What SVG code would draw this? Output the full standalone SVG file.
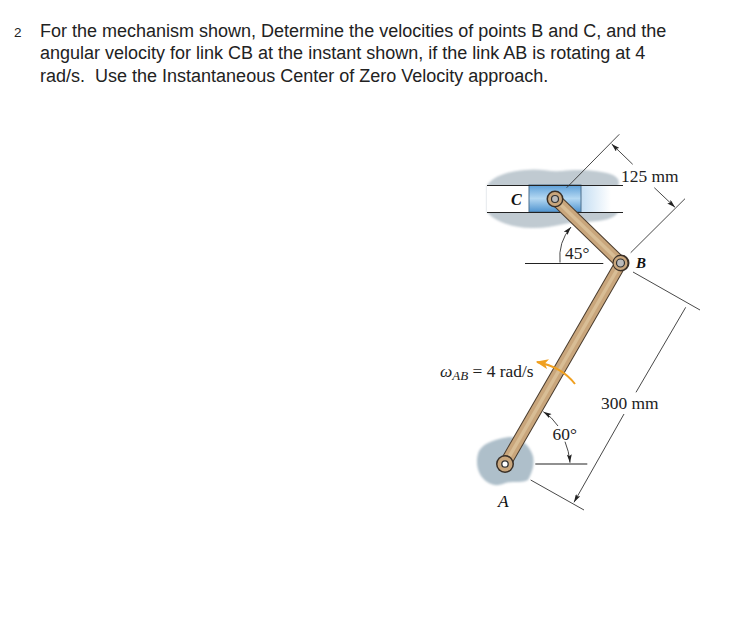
<svg xmlns="http://www.w3.org/2000/svg" width="742" height="625" viewBox="0 0 742 625">
<style>
.q{font-family:"Liberation Sans",Arial,sans-serif;font-size:18px;fill:#222}
.s{font-family:"Liberation Serif","Times New Roman",serif;font-size:17.400px;fill:#222}
.i{font-style:italic}
.d{stroke:#333;stroke-width:.9;fill:none}
.r{stroke:#222;stroke-width:1.2;fill:none}
.arr{marker-end:url(#h)}
</style>
<defs>
<marker id="h" viewBox="0 0 10 6" refX="10" refY="3" markerWidth="9" markerHeight="5" markerUnits="userSpaceOnUse" orient="auto"><path d="M0 0L10 3L0 6L2 3Z" fill="#222"/></marker>
<marker id="o" viewBox="0 0 10 8" refX="9" refY="4" markerWidth="13" markerHeight="10" markerUnits="userSpaceOnUse" orient="auto"><path d="M0 0L10 4L0 8L2.500 4Z" fill="#f0a020"/></marker>
<linearGradient id="bl" x1="0" y1="0" x2="0" y2="1"><stop offset="0" stop-color="#5d9fd8"/><stop offset=".5" stop-color="#b4d8f2"/><stop offset="1" stop-color="#4f94d0"/></linearGradient>
<linearGradient id="fd" x1="0" y1="0" x2="1" y2="0"><stop offset="0" stop-color="#c5def3"/><stop offset="1" stop-color="#fff"/></linearGradient>
<filter id="bb" x="-5%" y="-5%" width="110%" height="110%"><feGaussianBlur stdDeviation="1"/></filter>
</defs>
<rect width="742" height="625" fill="#fff"/>
<g id="question">
<text x="14" y="36.500" class="q" style="font-size:13.500px">2</text>
<text x="40" y="36.500" class="q">For the mechanism shown, Determine the velocities of points B and C, and the</text>
<text x="40" y="59" class="q">angular velocity for link CB at the instant shown, if the link AB is rotating at 4</text>
<text x="40" y="81.500" class="q">rad/s.<tspan dx="5"> Use the Instantaneous Center of Zero Velocity approach.</tspan></text>
</g>
<g id="support-C">
<path filter="url(#bb)" fill="#c0cad1" d="M487 186C492 176 510 171 525 170C540 168 548 172 562 171C578 169 600 170 613 175C619 178 620 182 618 186L618 212C614 220 598 222 580 222C565 222 555 228 535 228C515 229 495 222 487 212Z"/>
<rect x="487" y="185" width="136" height="27" fill="#fff"/>
<rect x="581" y="185" width="30" height="27" fill="url(#fd)"/>
<rect x="529" y="185" width="52" height="27" fill="url(#bl)" stroke="#4c6f8c" stroke-width="1"/>
<path class="r" d="M487 185.500H623M487 212.500H623"/>
<text x="511" y="205" class="s i" style="fill:#111;font-weight:bold;font-size:16px">C</text>
</g>
<g id="support-A">
<path filter="url(#bb)" fill="#aebfca" d="M479 451C484 442 497 439 509 437C520 436 530 446 533 456C535 466 531 474 528 480C520 484 510 480 503 484C495 487 487 484 481 476C476 468 476 458 479 451Z"/>
<text x="498" y="507" class="s i" style="fill:#111">A</text>
</g>
<g id="link-AB">
<line x1="505" y1="464" x2="621" y2="263" stroke="#4a3c2e" stroke-width="12.500" stroke-linecap="round"/>
<line x1="505" y1="464" x2="621" y2="263" stroke="#c9a67c" stroke-width="10.500"/>
<line x1="505" y1="464" x2="621" y2="263" stroke="#d8bd95" stroke-width="3.500"/>
<circle cx="505" cy="464" r="9" fill="#3a3027"/>
<circle cx="505" cy="464" r="7.500" fill="#c9a67c"/>
<circle cx="505" cy="464" r="3.200" fill="#fff" stroke="#333" stroke-width="1.300"/>
</g>
<g id="link-CB">
<line x1="555" y1="199" x2="621" y2="263" stroke="#4a3c2e" stroke-width="12.500" stroke-linecap="round"/>
<line x1="555" y1="199" x2="621" y2="263" stroke="#c9a67c" stroke-width="10.500"/>
<line x1="555" y1="199" x2="621" y2="263" stroke="#d8bd95" stroke-width="3.500"/>
<circle cx="555" cy="199" r="8.500" fill="#3a3027"/>
<circle cx="555" cy="199" r="7" fill="#c9a67c"/>
<circle cx="555" cy="199" r="3.500" fill="#bbb" stroke="#333" stroke-width="1.200"/>
</g>
<g id="pin-B">
<circle cx="621" cy="263" r="8.500" fill="#3a3027"/>
<circle cx="620.500" cy="263" r="7" fill="#c9a67c"/>
<circle cx="620.500" cy="263" r="4" fill="#bbb" stroke="#333" stroke-width="1.200"/>
<text x="636" y="268" class="s i" style="fill:#111;font-weight:bold;font-size:15px">B</text>
</g>
<g id="connectors">
<path class="d" d="M566.700 187.700L619.300 134.300M630.700 252.700L685 198.700M633 272L700 310M530.700 480L584 510M636 392.300L685.700 307.300"/>
<path class="d arr" d="M632.700 164.300L611.700 144"/>
<path class="d arr" d="M654.300 187.700L675 207.300"/>
<path class="d arr" d="M624 414L574 502.300"/>
<path class="r" d="M525 263.500H603.300M535.300 464H587.300"/>
<path class="d arr" d="M560 262.500Q558 242 571 227"/>
<path class="d arr" d="M558 426Q552 417 543.300 411.700"/>
<path class="d arr" d="M565 441.700Q569 451 570 462.700"/>
<path d="M575 384Q562 367 537 362" fill="none" stroke="#f0a020" stroke-width="2" marker-end="url(#o)"/>
</g>
<g id="labels">
<text x="621" y="182" class="s">125 mm</text>
<text x="601" y="409" class="s">300 mm</text>
<text x="565" y="259" class="s">45°</text>
<text x="552.500" y="440" class="s">60°</text>
<text x="440" y="377" class="s"><tspan class="i">ω</tspan><tspan class="i" dy="3" style="font-size:13px">AB</tspan><tspan dy="-3"> = 4 rad/s</tspan></text>
</g>
</svg>
